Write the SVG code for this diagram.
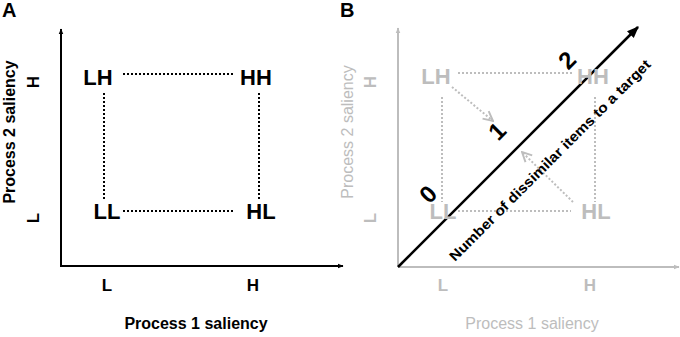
<svg xmlns="http://www.w3.org/2000/svg" width="680" height="337" viewBox="0 0 680 337">
<style>
text{font-family:"Liberation Sans",Arial,sans-serif;}
.panel{font-size:20px;font-weight:bold;fill:#000;}
.node{font-size:22px;font-weight:bold;text-anchor:middle;}
.a{fill:#000;}
.g{fill:#bdbdbd;}
.tick{font-size:17px;font-weight:bold;text-anchor:middle;}
.ax{font-size:16px;text-anchor:middle;}
.dot{stroke-width:2;stroke-dasharray:2 2;fill:none;}
.numb{font-size:24px;font-weight:bold;text-anchor:middle;}
</style>
<defs>
<marker id="ahb" viewBox="0 0 10 10" refX="9" refY="5" markerWidth="6" markerHeight="6" markerUnits="userSpaceOnUse" orient="auto"><path d="M0,1 L10,5 L0,9 Z" fill="#000"/></marker>
<marker id="ahg" viewBox="0 0 10 10" refX="9" refY="5" markerWidth="6" markerHeight="6" markerUnits="userSpaceOnUse" orient="auto"><path d="M0,1 L10,5 L0,9 Z" fill="#bdbdbd"/></marker>
<marker id="ahd" viewBox="0 0 10 10" refX="9" refY="5" markerWidth="12" markerHeight="12" markerUnits="userSpaceOnUse" orient="auto"><path d="M1,1 L9,5 L1,9" fill="none" stroke="#bdbdbd" stroke-width="1.6"/></marker>
<marker id="ahk" viewBox="0 0 10 10" refX="9" refY="5" markerWidth="12" markerHeight="12" markerUnits="userSpaceOnUse" orient="auto"><path d="M0,1 L10,5 L0,9 Z" fill="#000"/></marker>
</defs>

<text class="panel" x="2" y="17">A</text>
<text class="panel" x="340" y="17">B</text>

<g id="connectors">
<line x1="61" y1="267" x2="61" y2="29" stroke="#000" stroke-width="2" marker-end="url(#ahb)"/>
<line x1="61" y1="266" x2="343" y2="266" stroke="#000" stroke-width="2" marker-end="url(#ahb)"/>
<line class="dot" x1="123" y1="74" x2="233" y2="74" stroke="#000"/>
<line class="dot" x1="123" y1="211" x2="233" y2="211" stroke="#000"/>
<line class="dot" x1="104" y1="93" x2="104" y2="201" stroke="#000"/>
<line class="dot" x1="259" y1="93" x2="259" y2="201" stroke="#000"/>
<line x1="398" y1="267" x2="398" y2="28" stroke="#bdbdbd" stroke-width="2" marker-end="url(#ahg)"/>
<line x1="398" y1="267" x2="679" y2="267" stroke="#bdbdbd" stroke-width="2" marker-end="url(#ahg)"/>
<line class="dot" x1="458" y1="73" x2="572" y2="73" stroke="#bdbdbd"/>
<line class="dot" x1="458" y1="211" x2="571" y2="211" stroke="#bdbdbd"/>
<line class="dot" x1="442" y1="97" x2="442" y2="202" stroke="#bdbdbd"/>
<line class="dot" x1="595" y1="97" x2="595" y2="202" stroke="#bdbdbd"/>
<line class="dot" x1="452" y1="87" x2="493" y2="121" stroke="#bdbdbd" marker-end="url(#ahd)"/>
<line class="dot" x1="573" y1="202" x2="522" y2="152" stroke="#bdbdbd" marker-end="url(#ahd)"/>
<line x1="398" y1="267" x2="638" y2="27" stroke="#000" stroke-width="2.5" marker-end="url(#ahk)"/>
</g>

<g id="node-A-LH"><text class="node a" x="98" y="85">LH</text></g>
<g id="node-A-HH"><text class="node a" x="256" y="85">HH</text></g>
<g id="node-A-LL"><text class="node a" x="107" y="219">LL</text></g>
<g id="node-A-HL"><text class="node a" x="261" y="219">HL</text></g>

<g id="node-B-LH"><text class="node g" x="436" y="84">LH</text></g>
<g id="node-B-HH"><text class="node g" x="593" y="84">HH</text></g>
<g id="node-B-LL"><text class="node g" x="443" y="219">LL</text></g>
<g id="node-B-HL"><text class="node g" x="596" y="219">HL</text></g>

<g id="labels-A">
<text class="tick a" x="107" y="291">L</text>
<text class="tick a" x="253" y="291">H</text>
<text class="tick a" transform="translate(39,218) rotate(-90)">L</text>
<text class="tick a" transform="translate(39,82) rotate(-90)">H</text>
<text class="ax a" font-weight="bold" x="196" y="329">Process 1 saliency</text>
<text class="ax a" font-weight="bold" transform="translate(15,132) rotate(-90)">Process 2 saliency</text>
</g>

<g id="labels-B">
<text class="tick g" x="443" y="291">L</text>
<text class="tick g" x="590" y="291">H</text>
<text class="tick g" transform="translate(376,218) rotate(-90)">L</text>
<text class="tick g" transform="translate(376,82) rotate(-90)">H</text>
<text class="ax g" font-size="17" x="532" y="329">Process 1 saliency</text>
<text class="ax g" font-size="17" transform="translate(353,132) rotate(-90)">Process 2 saliency</text>
<text class="numb a" transform="translate(434,200) rotate(-45)">0</text>
<text class="numb a" transform="translate(503,137) rotate(-45)">1</text>
<text class="numb a" transform="translate(573,66) rotate(-45)">2</text>
<text font-size="14" font-weight="bold" fill="#000" textLength="278" lengthAdjust="spacingAndGlyphs" transform="translate(455,262) rotate(-45)">Number of dissimilar items to a target</text>
</g>
</svg>
